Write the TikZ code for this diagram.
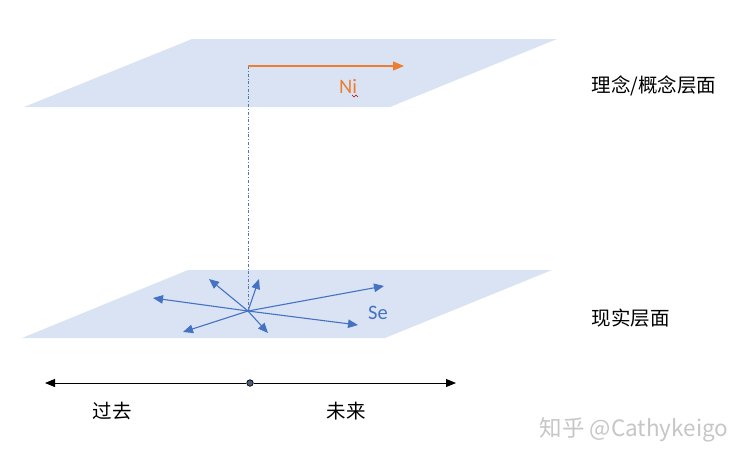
\documentclass[tikz,border=0pt]{standalone}
\usepackage{fontspec}
\setmainfont{Carlito}
\newfontfamily\cjk{Noto Sans CJK SC}
\usetikzlibrary{arrows.meta}
\definecolor{planeblue}{RGB}{218,227,243}
\definecolor{seblue}{RGB}{68,114,196}
\definecolor{niorange}{RGB}{237,125,49}
\tikzset{
    plane/.style={fill=planeblue, draw=none},
    searrow/.style={seblue, line width=1.1pt, -{Triangle[length=10pt, width=8.5pt]}},
    layer/.style={anchor=west, font=\cjk\fontsize{19.5}{21}\selectfont},
    timetext/.style={font=\cjk\fontsize{19.5}{21}\selectfont}
}
\begin{document}
\begin{tikzpicture}[x=1pt, y=-1pt]
    \useasboundingbox (0,0) rectangle (747,464);
    % two planes
    \fill[plane] (192,39) -- (557,39) -- (390,107) -- (24,107) -- cycle;
    \fill[plane] (188,270) -- (552,270) -- (385,338) -- (22,338) -- cycle;
    \coordinate (ni) at (248,66);
    \coordinate (se) at (248,311);
    \coordinate (nitip) at (404,66);
    \draw[seblue!70!gray, line width=0.6pt, dash dot] (ni) -- (se);
    \draw[niorange, line width=1.2pt, -{Triangle[length=11pt, width=9pt]}] (ni) -- (nitip);
    \node[niorange, font=\fontsize{20.5}{22}\selectfont] (nilabel) at (348,86) {Ni};
    \draw[red!75!black, line width=0.5pt] (352,95) -- (354,97) -- (356,95) -- (358,97);
    % sensing arrows
    \foreach \x/\y [count=\i] in {153/298, 209/279, 259/279, 384/286, 358/325, 268/333, 183/332} {
        \coordinate (s\i) at (\x,\y);
        \draw[searrow] (se) -- (s\i);
    }
    \node[seblue, font=\fontsize{20.5}{22}\selectfont] (selabel) at (378,313) {Se};
    % layer labels
    \node[layer] (idea) at (588,86) {理念/概念层面};
    \node[layer] (real) at (588,318) {现实层面};
    % timeline
    \coordinate (past) at (45,383);
    \coordinate (future) at (456,383);
    \node[circle, draw=black, fill=seblue!45!black!80, inner sep=0pt, minimum size=6.5pt, line width=0.7pt] (now) at (250,383) {};
    \draw[line width=0.9pt, -{Triangle[length=10pt, width=8pt]}] (now) -- (future);
    \draw[line width=0.9pt, -{Triangle[length=10pt, width=8pt]}] (now) -- (past);
    \node[timetext] (pastlabel) at (112,411) {过去};
    \node[timetext] (futurelabel) at (346,411) {未来};
    % watermark
    \node[gray!45, font=\cjk\fontsize{22.5}{24}\selectfont] (mark) at (634,430) {知乎 @Cathykeigo};
\end{tikzpicture}
\end{document}
